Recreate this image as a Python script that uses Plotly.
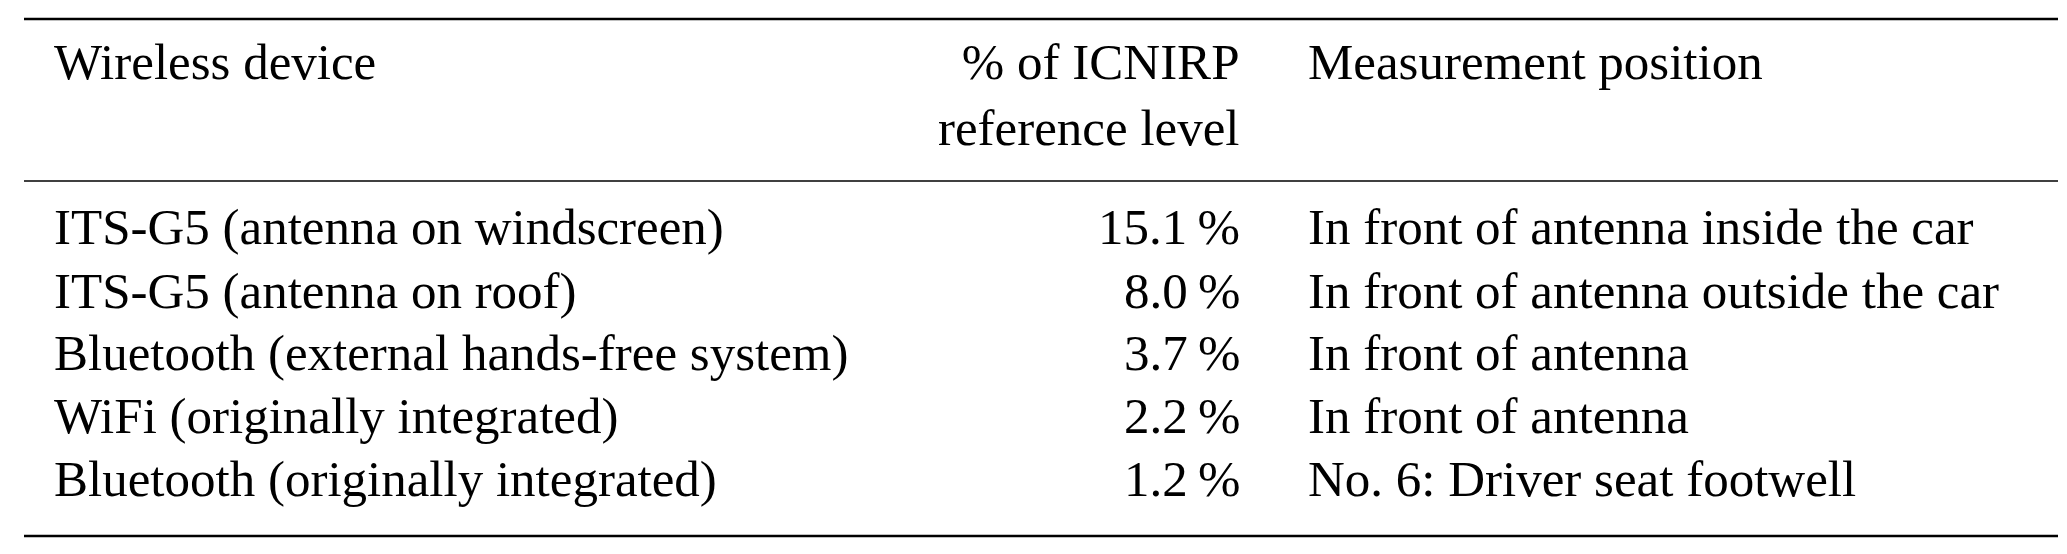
import plotly.graph_objects as go

W, H = 2067, 554
header = ["Wireless device", "% of ICNIRP<br>reference level", "Measurement position"]
devices = ["ITS-G5 (antenna on windscreen)", "ITS-G5 (antenna on roof)",
           "Bluetooth (external hands-free system)", "WiFi (originally integrated)",
           "Bluetooth (originally integrated)"]
percent = [15.1, 8.0, 3.7, 2.2, 1.2]
positions = ["In front of antenna inside the car", "In front of antenna outside the car",
             "In front of antenna", "In front of antenna", "No. 6: Driver seat footwell"]

FONT = dict(family="Liberation Serif", size=51, color="black")
fig = go.Figure()
ann = []
def px(x, y): return x / W, 1 - y / H

def add(text, x, y, anchor, valign="middle"):
    xx, yy = px(x, y)
    ann.append(dict(text=text, x=xx, y=yy, xref="paper", yref="paper", showarrow=False,
                    xanchor=anchor, yanchor=valign, font=FONT, align="right" if anchor == "right" else "left"))

add(header[0], 44, 54, "left")
add(header[1], 1234, 24, "right", "top")
add(header[2], 1298, 54, "left")
row_y = [219, 283, 345, 408, 471]
for d, p, pos, y in zip(devices, percent, positions, row_y):
    add(d, 44, y, "left")
    add(f"{p:.1f}\u2009%", 1234, y, "right")
    add(pos, 1298, y, "left")

shapes = []
for y, w in [(11, 2.5), (173, 1.5), (528, 2.5)]:
    _, yy = px(0, y)
    x0, _ = px(16, 0); x1, _ = px(2050, 0)
    shapes.append(dict(type="line", xref="paper", yref="paper", x0=x0, x1=x1, y0=yy, y1=yy,
                       line=dict(color="black", width=w)))

fig.update_layout(width=W, height=H, margin=dict(l=0, r=0, t=0, b=0),
                  paper_bgcolor="white", plot_bgcolor="white",
                  xaxis=dict(visible=False), yaxis=dict(visible=False),
                  annotations=ann, shapes=shapes)
fig.write_html("out.html")
